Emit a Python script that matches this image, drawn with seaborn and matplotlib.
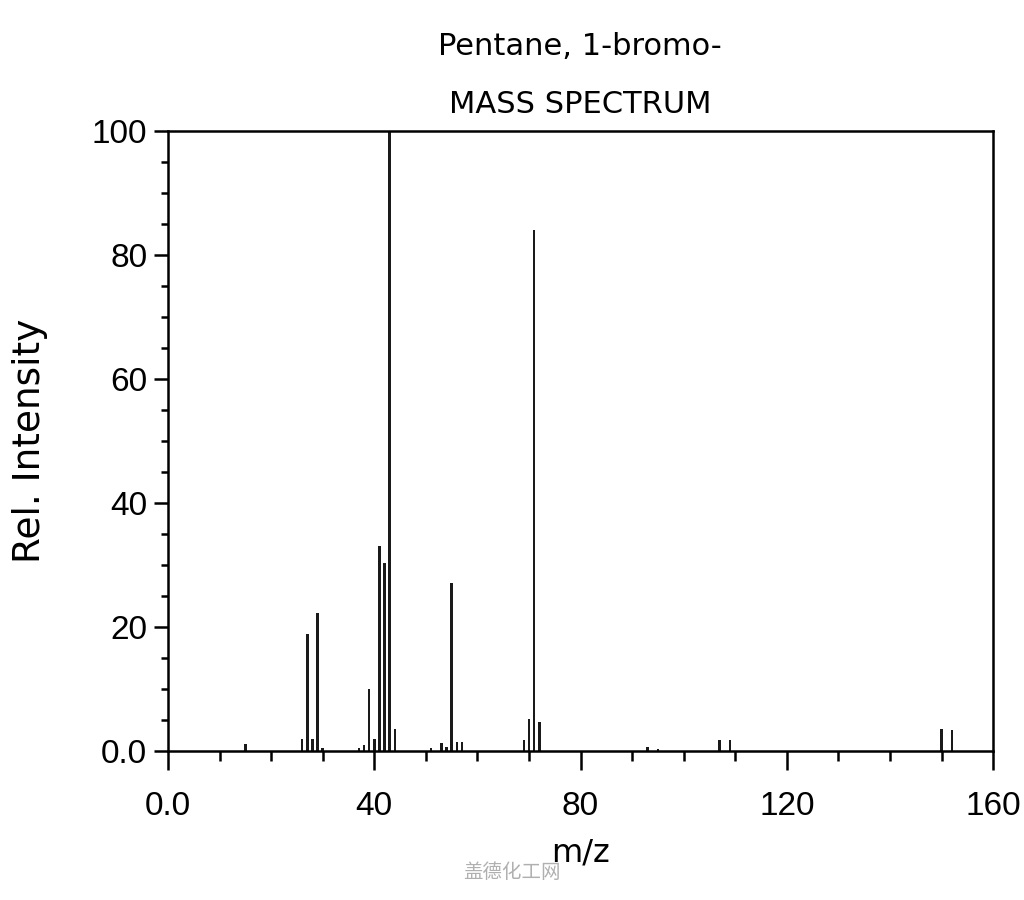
import matplotlib
matplotlib.use('Agg')
import matplotlib.pyplot as plt
import seaborn as sns
import pandas as pd
from matplotlib.ticker import MultipleLocator

# peaks (m/z, relative intensity)
mz = [15, 26, 27, 28, 29, 30, 37, 38, 39, 40, 41, 42, 43, 44,
      51, 53, 54, 55, 56, 57, 69, 70, 71, 72, 93, 95, 107, 109, 150, 152]
intensity = [1.1, 2.0, 18.8, 2.0, 22.2, 0.5, 0.5, 1.0, 10.0, 1.9, 33.1, 30.3, 100.0, 3.5,
             0.5, 1.3, 0.6, 27.1, 1.5, 1.5, 1.8, 5.1, 84.0, 4.6, 0.6, 0.4, 1.7, 1.7, 3.5, 3.4]

x_ticks = [0, 40, 80, 120, 160]
x_tick_labels = ['0.0', '40', '80', '120', '160']
y_ticks = [0, 20, 40, 60, 80, 100]
y_tick_labels = ['0.0', '20', '40', '60', '80', '100']

title_name = 'Pentane, 1-bromo-'
title_kind = 'MASS SPECTRUM'
watermark = '盖德化工网'

sns.set_style('ticks')
plt.rcParams['font.family'] = ['DejaVu Sans']
plt.rcParams['text.color'] = 'black'
plt.rcParams['axes.labelcolor'] = 'black'
tick_font = ['Liberation Sans', 'DejaVu Sans']

df = pd.DataFrame({'mz': mz, 'intensity': intensity})

fig = plt.figure(figsize=(10.24, 9.0), dpi=100)
ax = fig.add_axes([0.1641, 0.16556, 0.8057, 0.6889])

sns.barplot(data=df, x='mz', y='intensity', native_scale=True, width=0.5,
            color='#1a1a1a', saturation=1, linewidth=0, errorbar=None, ax=ax)

ax.set_xlim(0, 160)
ax.set_ylim(0, 100)

ax.set_xticks(x_ticks)
ax.set_xticklabels(x_tick_labels, fontfamily=tick_font, fontsize=24)
ax.set_yticks(y_ticks)
ax.set_yticklabels(y_tick_labels, fontfamily=tick_font, fontsize=24)
ax.xaxis.set_minor_locator(MultipleLocator(10))
ax.yaxis.set_minor_locator(MultipleLocator(5))

ax.tick_params(axis='x', which='major', length=13.7, width=1.8, pad=15, color='black', labelcolor='black')
ax.tick_params(axis='x', which='minor', length=7.2, width=1.8, color='black')
ax.tick_params(axis='y', which='major', length=10, width=1.8, pad=5, color='black', labelcolor='black')
ax.tick_params(axis='y', which='minor', length=5, width=1.8, color='black')

for side in ['top', 'right', 'left', 'bottom']:
    ax.spines[side].set_visible(True)
    ax.spines[side].set_linewidth(1.8)
    ax.spines[side].set_color('black')

ax.set_xlabel('m/z', fontsize=23, family='DejaVu Sans')
ax.set_ylabel('Rel. Intensity', fontsize=27, family='DejaVu Sans')
ax.xaxis.set_label_coords(0.5, -0.139)
ax.yaxis.set_label_coords(-0.145, 0.5)

fig.text(0.5664, 1 - 55 / 900, title_name, ha='center', va='baseline', fontsize=22)
fig.text(0.5664, 1 - 113 / 900, title_kind, ha='center', va='baseline', fontsize=22)

fig.text(0.5, 1 - 873 / 900, watermark, ha='center', va='center', fontsize=14,
         color='#b0b0b0', family=['Noto Sans CJK SC', 'DejaVu Sans'])

fig.savefig('out.png', dpi=100, facecolor='white')
